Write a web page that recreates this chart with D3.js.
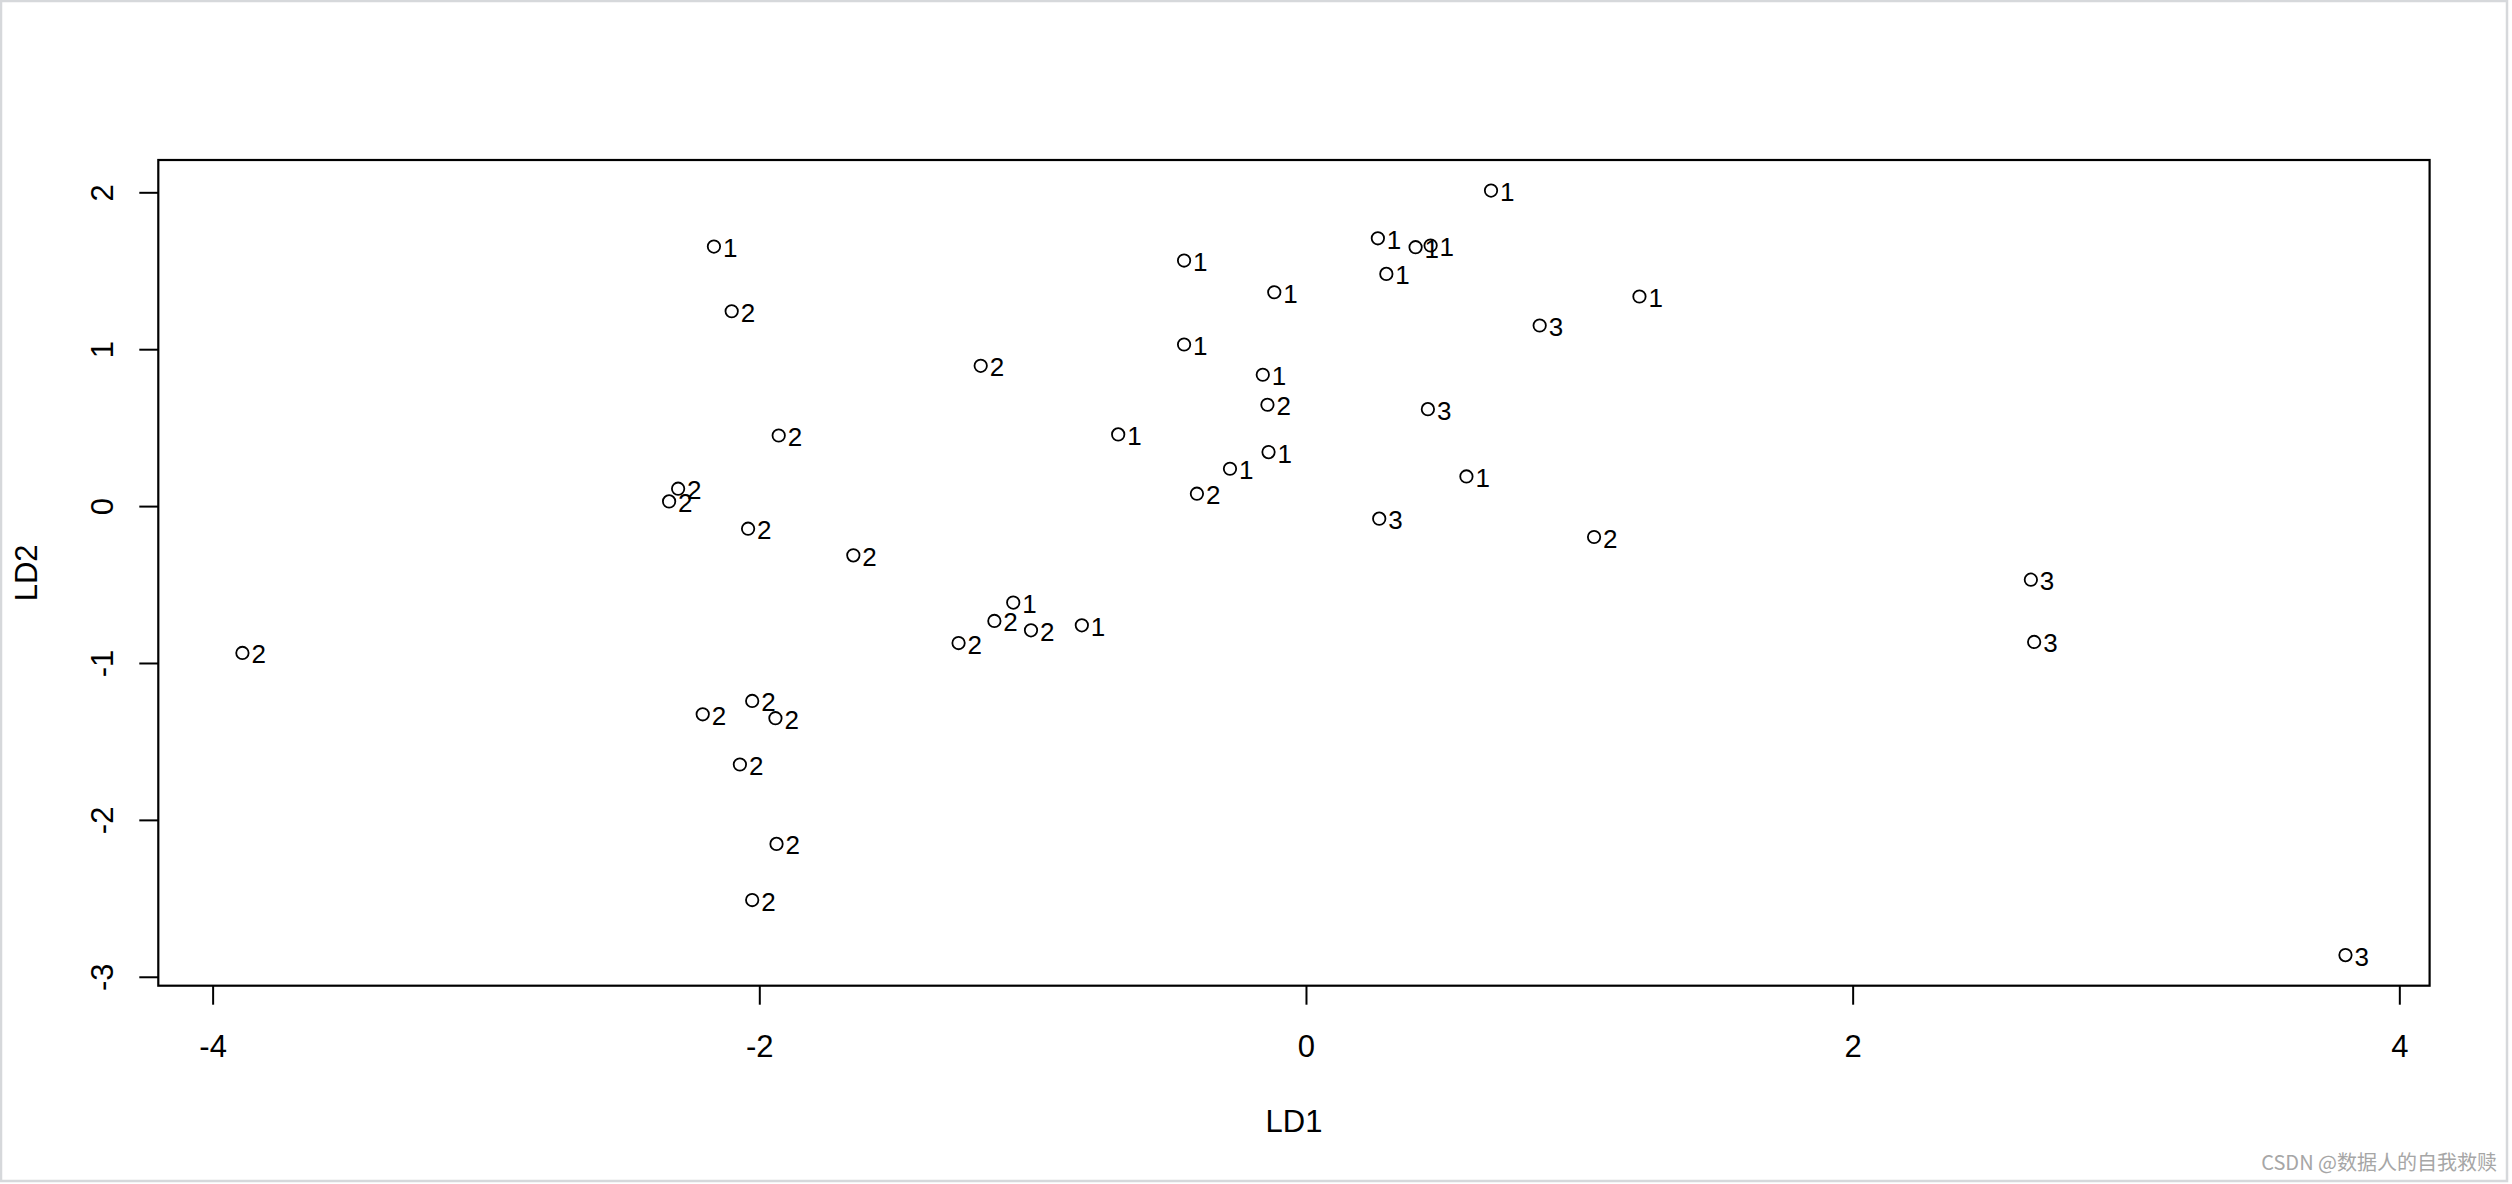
<!DOCTYPE html>
<html>
<head>
<meta charset="utf-8">
<script src="https://cdn.jsdelivr.net/npm/d3@7"></script>
<style>
  html, body { margin: 0; padding: 0; background: #fff; }
  svg { display: block; }
</style>
</head>
<body>
<svg id="chart" width="2512" height="1184"></svg>
<script>
// ---- data ----
const ld1 = [
  -2.166, 0.677, 0.263, 0.401, 0.456, 0.294, -0.446, -0.116, -0.446, -0.158,
  -0.687, -0.137, -0.278, 0.587, -1.071, -0.820, 1.220,
  -2.101, -1.929, -2.297, -2.330, -2.041, -3.891, -2.207, -2.026, -1.941, -2.071,
  -1.937, -2.026, -1.190, -0.141, -0.399, -1.656, -1.140, -1.006, -1.271, 1.054,
  0.855, 0.446, 0.268, 2.652, 2.664, 3.803
];
const ld2 = [
  1.654, 2.011, 1.707, 1.650, 1.661, 1.480, 1.565, 1.363, 1.030, 0.837,
  0.457, 0.344, 0.238, 0.189, -0.615, -0.760, 1.336,
  1.242, 0.450, 0.111, 0.030, -0.144, -0.936, -1.327, -1.242, -1.352, -1.647,
  -2.153, -2.511, 0.894, 0.646, 0.079, -0.314, -0.732, -0.792, -0.873, -0.197,
  1.151, 0.618, -0.080, -0.469, -0.866, -2.862
];
const groups = [
  "1","1","1","1","1","1","1","1","1","1","1","1","1","1","1","1","1",
  "2","2","2","2","2","2","2","2","2","2","2","2","2","2","2","2","2","2","2","2",
  "3","3","3","3","3","3"
];
const xTicks = [-4, -2, 0, 2, 4];
const yTicks = [-3, -2, -1, 0, 1, 2];
const xTitle = "LD1";
const yTitle = "LD2";
const watermark = "CSDN @数据人的自我救赎";

// ---- layout ----
const W = 2512, H = 1184;
const box = { left: 158.3, right: 2429.6, top: 160, bottom: 985.7 };
const FONT = "'Liberation Sans', Arial, 'DejaVu Sans', sans-serif";

const svg = d3.select("#chart");
svg.append("rect").attr("x", 0).attr("y", 0).attr("width", W).attr("height", H).attr("fill", "#fff");
// outer light frame of the screenshot
svg.append("rect").attr("x", 1).attr("y", 1).attr("width", 2506).attr("height", 1180)
  .attr("fill", "none").attr("stroke", "#d6d8db").attr("stroke-width", 2.5);

// R-style 4% padded domains
function padded(arr) {
  const [mn, mx] = d3.extent(arr);
  const r = mx - mn;
  return [mn - 0.04 * r, mx + 0.04 * r];
}
const x = d3.scaleLinear().domain(padded(ld1)).range([box.left, box.right]);
const y = d3.scaleLinear().domain(padded(ld2)).range([box.bottom, box.top]);

// axes
const xAxis = d3.axisBottom(x).tickValues(xTicks).tickSize(19).tickPadding(0).tickFormat(d => String(d));
const gx = svg.append("g").attr("transform", `translate(0,${box.bottom})`).call(xAxis);
gx.select(".domain").remove();
gx.selectAll(".tick line").attr("stroke", "#000").attr("stroke-width", 2);
gx.selectAll(".tick text")
  .attr("y", 71).attr("dy", null)
  .attr("fill", "#000").attr("font-family", FONT).attr("font-size", 31);

const yAxis = d3.axisLeft(y).tickValues(yTicks).tickSize(19).tickPadding(0).tickFormat(d => String(d));
const gy = svg.append("g").attr("transform", `translate(${box.left},0)`).call(yAxis);
gy.select(".domain").remove();
gy.selectAll(".tick line").attr("stroke", "#000").attr("stroke-width", 2);
gy.selectAll(".tick text")
  .attr("x", null).attr("dy", null)
  .attr("text-anchor", "middle")
  .attr("transform", "translate(-45,0) rotate(-90)")
  .attr("y", 0)
  .attr("fill", "#000").attr("font-family", FONT).attr("font-size", 31);

// plot box
svg.append("rect")
  .attr("x", box.left).attr("y", box.top)
  .attr("width", box.right - box.left).attr("height", box.bottom - box.top)
  .attr("fill", "none").attr("stroke", "#000").attr("stroke-width", 2.2);

// axis titles
svg.append("text")
  .attr("x", (box.left + box.right) / 2).attr("y", 1132)
  .attr("text-anchor", "middle").attr("font-family", FONT).attr("font-size", 31)
  .attr("fill", "#000").text(xTitle);
svg.append("text")
  .attr("transform", `translate(37,${(box.top + box.bottom) / 2}) rotate(-90)`)
  .attr("text-anchor", "middle").attr("font-family", FONT).attr("font-size", 31)
  .attr("fill", "#000").text(yTitle);

// points + labels
const pts = ld1.map((v, i) => ({ a: v, b: ld2[i], g: groups[i] }));
const gp = svg.append("g");
gp.selectAll("circle").data(pts).join("circle")
  .attr("cx", d => x(d.a)).attr("cy", d => y(d.b)).attr("r", 6.2)
  .attr("fill", "none").attr("stroke", "#000").attr("stroke-width", 1.8);
gp.selectAll("text").data(pts).join("text")
  .attr("x", d => x(d.a) + 9).attr("y", d => y(d.b) + 10.5)
  .attr("font-family", FONT).attr("font-size", 26).attr("fill", "#000")
  .text(d => d.g);

// watermark
svg.append("text")
  .attr("x", 2497).attr("y", 1170)
  .attr("text-anchor", "end")
  .attr("font-family", "'Noto Sans CJK SC', 'Liberation Sans', sans-serif")
  .attr("font-size", 20).attr("fill", "#a6a6a6")
  .text(watermark);
</script>
</body>
</html>
